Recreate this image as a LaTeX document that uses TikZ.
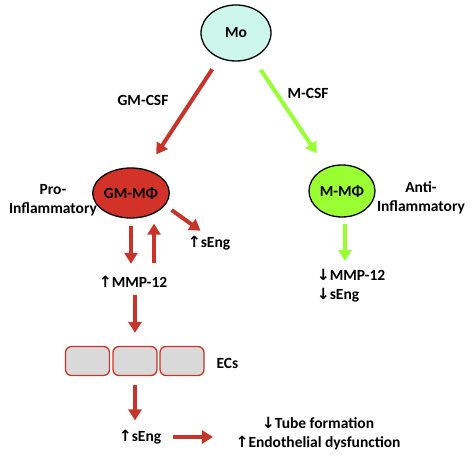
\documentclass[tikz,border=0pt]{standalone}
\usepackage{fontspec}
\setmainfont{Carlito}
\newfontfamily\arrowfont{DejaVu Sans}
\usetikzlibrary{arrows.meta,shapes.geometric}
\definecolor{arrred}{RGB}{200,52,42}
\definecolor{cellred}{RGB}{210,50,40}
\definecolor{limegreen}{RGB}{153,255,51}
\definecolor{mocyan}{RGB}{204,247,234}
\definecolor{ecgray}{RGB}{217,217,217}
\newcommand{\upar}{{\arrowfont ↑}}
\newcommand{\dnar}{{\arrowfont ↓}}
\begin{document}
\begin{tikzpicture}[x=1pt,y=-1pt,
  font=\fontsize{15.5}{19}\selectfont\bfseries,
  cell/.style={draw=black,line width=1.3pt,ellipse,inner sep=0pt},
  ecbox/.style={draw=arrred,fill=ecgray,line width=1.3pt,rounded corners=6pt,minimum width=44pt,minimum height=29pt},
  redarr/.style={draw=arrred,line width=4pt,-{Triangle[width=13pt,length=11pt]}},
  greenarr/.style={draw=limegreen,line width=4pt,-{Triangle[width=13pt,length=11pt]}}]
\useasboundingbox (0,0) rectangle (474,457);
% cells
\node[cell,fill=mocyan,minimum width=70pt,minimum height=56pt] (mo) at (236,33) {Mo};
\node[cell,fill=cellred,minimum width=68pt,minimum height=50pt] (gm) at (131,193) {GM-MΦ};
\node[cell,fill=limegreen,minimum width=66pt,minimum height=52pt] (mm) at (342,191) {M-MΦ};
% labels
\node (gmcsf) at (143,100) {GM-CSF};
\node (mcsf) at (308,93) {M-CSF};
\node[align=center] (pro) at (53,200) {Pro-\\Inflammatory};
\node[align=center] (anti) at (421,198) {Anti-\\Inflammatory};
\node (mmp) at (133,282) {\upar MMP-12};
\node (seng) at (209,243) {\upar sEng};
\node[align=left] (mdown) at (351,286) {\dnar MMP-12\\\dnar sEng};
% ECs
\foreach \i/\x in {1/87.5,2/135,3/182}
  \node[ecbox] (ec\i) at (\x,361) {};
\node[anchor=west] (ecs) at (213,363) {ECs};
\node (seng2) at (140,437) {\upar sEng};
\node[align=center] (res) at (318,434) {\dnar Tube formation\\\upar Endothelial dysfunction};
% arrows
\draw[redarr,shorten <=13pt,shorten >=18pt] (mo) -- (gm);
\draw[greenarr,shorten <=14pt,shorten >=17pt] (mo) -- (mm);
\draw[redarr,shorten <=7pt,shorten >=9pt] (gm.south) -- (gm.south |- mmp.north);
\draw[redarr,shorten <=10pt,shorten >=5pt] ([xshift=23pt]gm.south |- mmp.north) -- ([xshift=23pt]gm.south);
\draw[redarr,shorten <=8pt,shorten >=3pt] (gm.-20) -- ([xshift=-6pt]seng.north);
\draw[redarr,shorten <=4pt,shorten >=13pt] (ec2.north |- mmp.south) -- (ec2.north);
\draw[redarr,shorten <=9pt,shorten >=6pt] (ec2.south) -- (ec2.south |- seng2.north);
\draw[redarr,shorten <=8pt,shorten >=19pt] (seng2.east) -- (seng2.east -| res.west);
\draw[greenarr,shorten <=6pt,shorten >=5pt] ([xshift=3pt]mm.south) -- ([xshift=3pt]mm.south |- mdown.north);
\end{tikzpicture}
\end{document}
